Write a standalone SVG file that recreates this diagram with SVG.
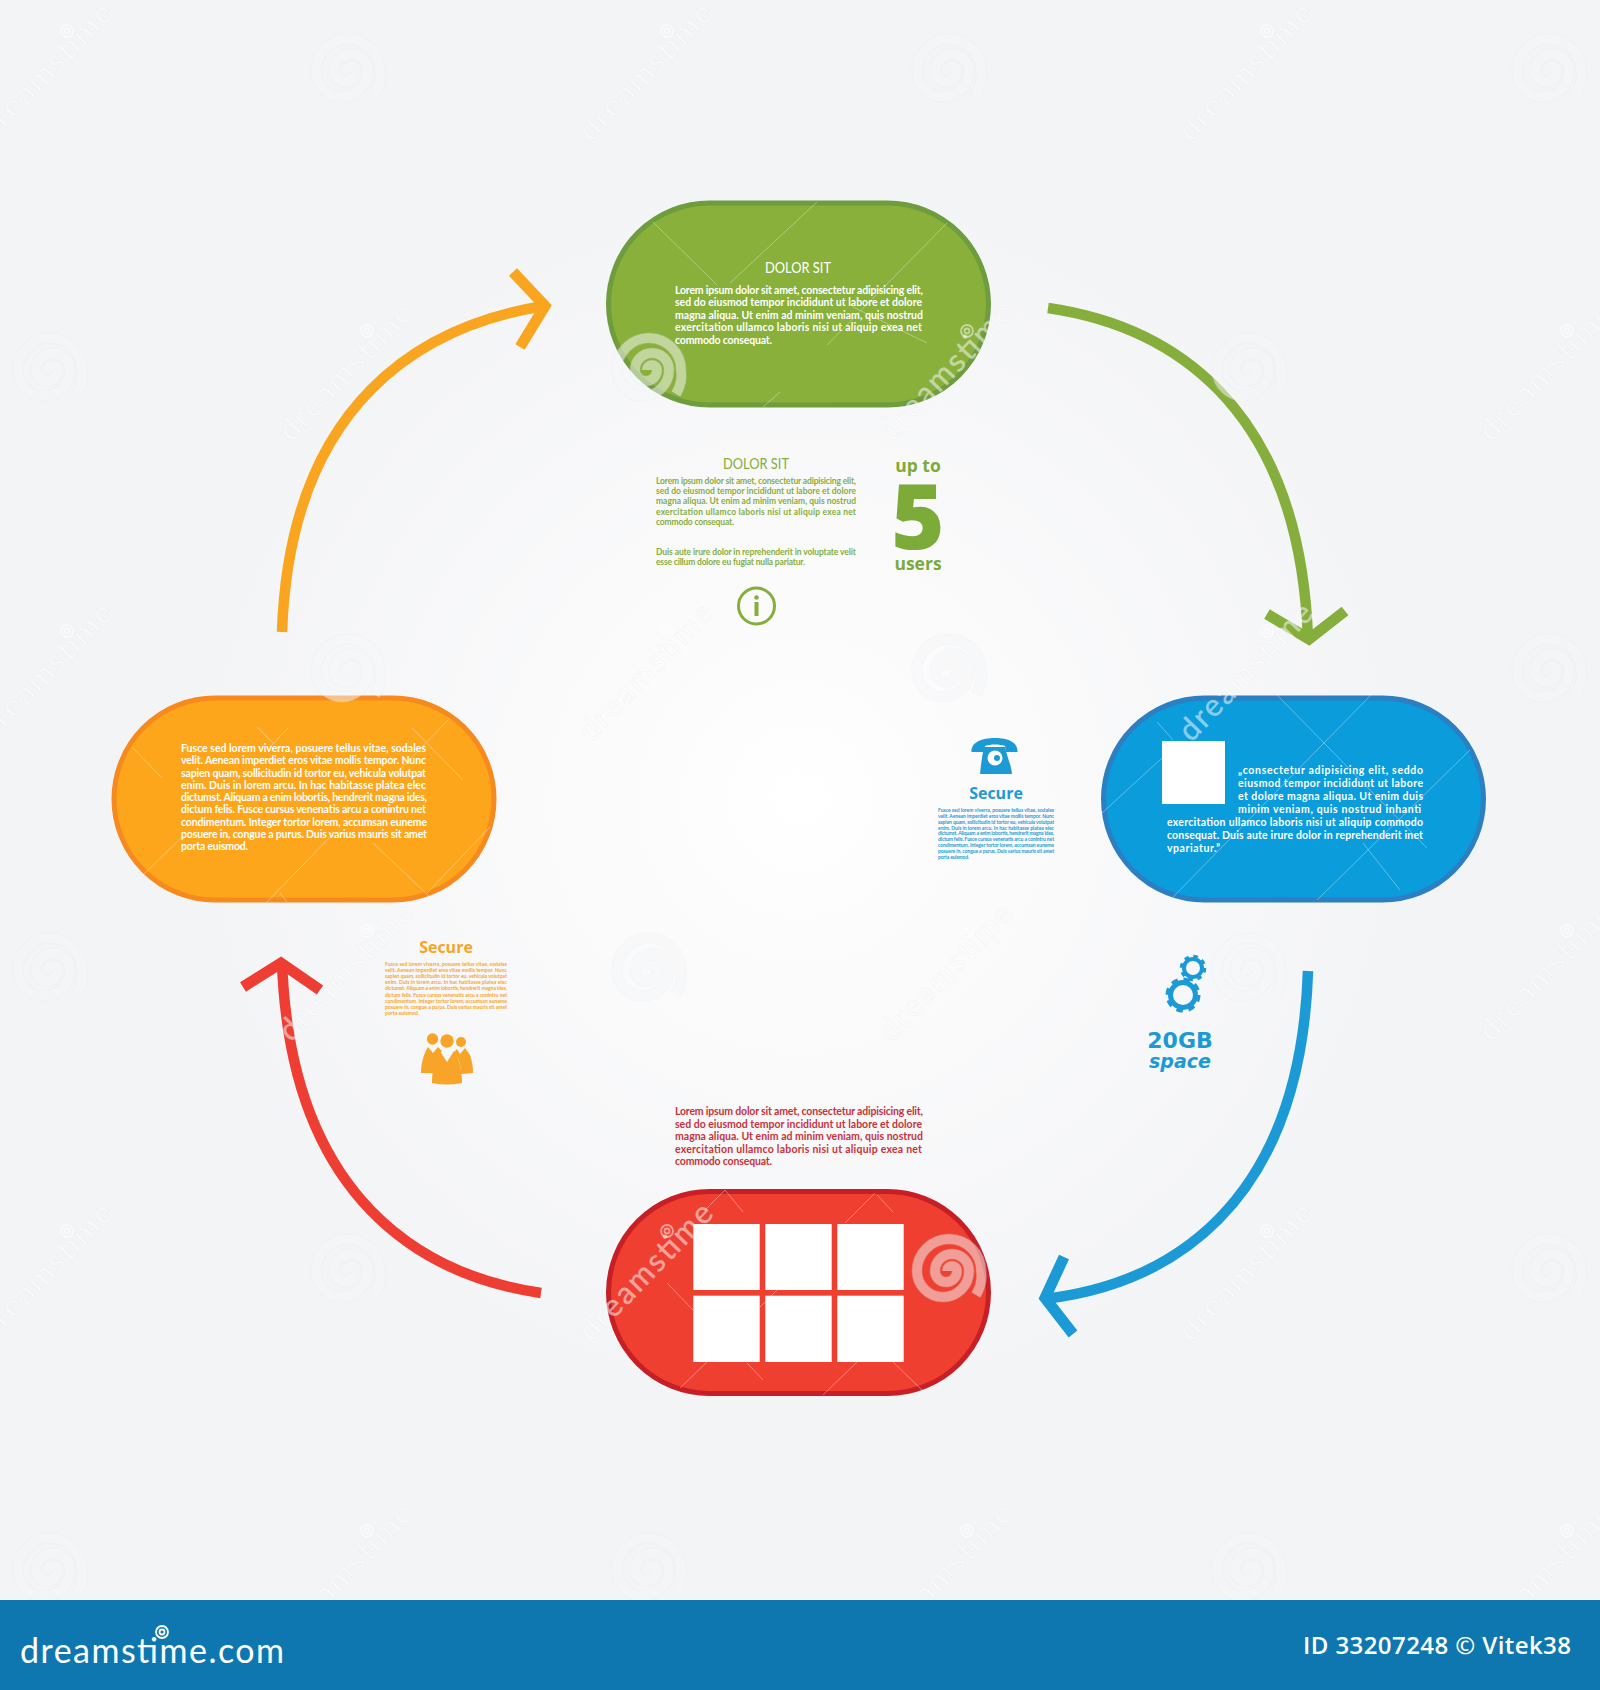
<svg xmlns="http://www.w3.org/2000/svg" width="1600" height="1690" viewBox="0 0 1600 1690">
<style>
text{font-family:"Open Sans","Noto Sans","Liberation Sans",sans-serif}
.b text,.m text,.t text{font-family:Lato,"Open Sans",sans-serif;font-weight:700}
.conn{fill:none;stroke-width:10.500}
.head{fill:none;stroke-width:11}
.pill{stroke-width:5}
.b{font-size:10.500px}
.m{font-size:8.500px}
.t{font-size:5px}
text.h{font-family:Lato,"Open Sans",sans-serif;font-size:15px;font-weight:400;text-anchor:middle}
.sec{font-size:16px;font-weight:700;text-anchor:middle}
.w{fill:#fff}
.lat{fill:none;stroke:#fff;stroke-width:1;opacity:.35}
text.wm{font-family:Lato,"Open Sans",sans-serif;font-size:31px;fill:#fff;fill-opacity:.5;text-anchor:middle;stroke:#dfe2e6;stroke-opacity:.3;stroke-width:.7}
.sp0{fill:none;stroke:#dfe2e6;stroke-width:11;opacity:.25}
.sp{fill:none;stroke:#fff;stroke-width:9.500;opacity:.36}
.ring{fill:none;stroke:#fff;stroke-width:1.800;opacity:.5}
</style>
<defs>
<radialGradient id="bg" gradientUnits="userSpaceOnUse" cx="800" cy="800" r="640">
<stop offset="0" stop-color="#ffffff"/><stop offset=".4" stop-color="#fafafb"/><stop offset="1" stop-color="#f3f4f6"/>
</radialGradient>
<path id="sd" d="M27 24Q34 12 32 0A32 32 0 0 0-32 0A26 26 0 0 0 20 0A17 17 0 0 0-14 0A11 11 0 0 0 8 0A5 5 0 0 0-2 0"/>
<g id="spiral"><use href="#sd" class="sp0"/><use href="#sd" class="sp"/></g>
<g id="cr"><circle class="ring" cx="17" cy="-41" r="6"/><circle class="ring" cx="17" cy="-41" r="2.500"/></g>
</defs>
<rect width="1600" height="1690" fill="url(#bg)"/>

<g id="connectors">
<g id="arrow-green" stroke="#86ae3d"><path class="conn" d="M1048 308C1165 325 1300 400 1308 640"/><path class="head" d="M1267 614L1309 639L1345 611"/></g>
<g id="arrow-blue" stroke="#1b9ad6"><path class="conn" d="M1308 971C1300 1210 1165 1285 1044 1299"/><path class="head" d="M1064 1257L1045 1298L1073 1334"/></g>
<g id="arrow-red" stroke="#ee3d32"><path class="conn" d="M541 1293C425 1276 290 1201 282 961"/><path class="head" d="M243 987L281 963L320 990"/></g>
<g id="arrow-orange" stroke="#f9a51f"><path class="conn" d="M282 632C290 400 425 325 544 306"/><path class="head" d="M513 272L545 306L520 347"/></g>
</g>

<g id="node-green">
<rect class="pill" x="608.500" y="203" width="380" height="202" rx="101" fill="#88b03b" stroke="#6f9c3d"/>
<path class="lat" d="M653 222L717 285M817 202L730 283M947 223L827 345M853 307L927 343M780 392L763 407"/>
<text class="h w" x="798" y="273" textLength="66" lengthAdjust="spacingAndGlyphs">DOLOR SIT</text>
<g class="b w">
<text x="675" y="293.500" textLength="248">Lorem ipsum dolor sit amet, consectetur adipisicing elit,</text>
<text x="675" y="306" textLength="247">sed do eiusmod tempor incididunt ut labore et dolore</text>
<text x="675" y="318.500" textLength="248">magna aliqua. Ut enim ad minim veniam, quis nostrud</text>
<text x="675" y="331" textLength="247">exercitation ullamco laboris nisi ut aliquip exea net</text>
<text x="675" y="343.800" textLength="97">commodo consequat.</text>
</g>
</g>

<g id="note-green" fill="#86ae3d">
<text class="h" x="756" y="469" textLength="66" lengthAdjust="spacingAndGlyphs">DOLOR SIT</text>
<g class="m">
<text x="656" y="484" textLength="200">Lorem ipsum dolor sit amet, consectetur adipisicing elit,</text>
<text x="656" y="494" textLength="200">sed do eiusmod tempor incididunt ut labore et dolore</text>
<text x="656" y="504.300" textLength="200">magna aliqua. Ut enim ad minim veniam, quis nostrud</text>
<text x="656" y="514.500" textLength="200">exercitation ullamco laboris nisi ut aliquip exea net</text>
<text x="656" y="524.500" textLength="78">commodo consequat.</text>
<text x="656" y="554.500" textLength="200">Duis aute irure dolor in reprehenderit in voluptate velit</text>
<text x="656" y="564.500" textLength="149">esse cillum dolore eu fugiat nulla pariatur.</text>
</g>
<circle cx="756.500" cy="606" r="18" fill="none" stroke="#86ae3d" stroke-width="3"/>
<circle cx="756.500" cy="597.500" r="2.300"/><rect x="754.500" y="602" width="4" height="14"/>
</g>

<g id="users" fill="#7cab3a" font-weight="700" text-anchor="middle">
<text x="918" y="472" font-size="17.500">up to</text>
<text x="918" y="549" font-size="91" font-weight="800">5</text>
<text x="918" y="570" font-size="17.500">users</text>
</g>

<g id="node-blue">
<rect class="pill" x="1103.500" y="698" width="380" height="202" rx="101" fill="#0b9cdb" stroke="#2b7fc2"/>
<path class="lat" d="M1102 813L1163 757M1157 722L1173 740M1277 695L1427 848M1371 695L1173 897M1470 750L1317 900M1363 843L1400 890"/>
<rect class="w" x="1162" y="741" width="63" height="63"/>
<g class="b w">
<text x="1238" y="774" textLength="185">„consectetur adipisicing elit, seddo</text>
<text x="1238" y="787" textLength="185">eiusmod tempor incididunt ut labore</text>
<text x="1238" y="800" textLength="185">et dolore magna aliqua. Ut enim duis</text>
<text x="1238" y="813" textLength="183">minim veniam, quis nostrud inhanti</text>
<text x="1167" y="826" textLength="256">exercitation ullamco laboris nisi ut aliquip commodo</text>
<text x="1167" y="839" textLength="256">consequat. Duis aute irure dolor in reprehenderit inet</text>
<text x="1167" y="852" textLength="53">vpariatur.”</text>
</g>
</g>

<g id="note-blue" fill="#1b9ad6">
<path d="M971.500 752C971 742 982 738 995 738C1008 738 1018 742 1017.500 752L1006 752L1005 746C1000 744 990 744 985 746L984 752Z"/>
<path d="M984 747L1005 747C1007 757 1011 764 1012 774L980 774C981 764 982 757 984 747Z"/>
<circle cx="995" cy="758" r="7.500" fill="#fff"/><circle cx="997" cy="758" r="3" fill="#1b9ad6"/>
<text class="sec" x="996" y="799">Secure</text>
<g class="t">
<text x="938" y="812" textLength="116">Fusce sed lorem viverra, posuere tellus vitae, sodales</text>
<text x="938" y="817.800" textLength="116">velit. Aenean imperdiet eros vitae mollis tempor. Nunc</text>
<text x="938" y="823.700" textLength="116">sapien quam, sollicitudin id tortor eu, vehicula volutpat</text>
<text x="938" y="829.500" textLength="116">enim. Duis in lorem arcu. In hac habitasse platea elec</text>
<text x="938" y="835.300" textLength="116">dictumst. Aliquam a enim lobortis, hendrerit magna ides,</text>
<text x="938" y="841.200" textLength="116">dictum felis. Fusce cursus venenatis arcu a conintru net</text>
<text x="938" y="847" textLength="116">condimentum. Integer tortor lorem, accumsan euneme</text>
<text x="938" y="852.800" textLength="116">posuere in, congue a purus. Duis varius mauris sit amet</text>
<text x="938" y="858.700" textLength="31">porta euismod.</text>
</g>
</g>

<g id="gears" fill="none" stroke="#1b9ad6">
<circle cx="1193" cy="968" r="9" stroke-width="4"/>
<circle cx="1193" cy="968" r="11.500" stroke-width="3.500" stroke-dasharray="4.500 4.530"/>
<circle cx="1183" cy="995" r="12.500" stroke-width="5"/>
<circle cx="1183" cy="995" r="15.500" stroke-width="4" stroke-dasharray="6.500 5.670"/>
</g>
<g id="space" fill="#1b9ad6" text-anchor="middle" style="font-weight:700">
<text x="1180" y="1048" font-size="22" style="font-family:'DejaVu Sans',sans-serif">20GB</text>
<text x="1180" y="1068" font-size="19" font-style="italic" style="font-family:'DejaVu Sans',sans-serif">space</text>
</g>

<g id="node-red">
<rect class="pill" x="608.500" y="1191.500" width="380" height="202" rx="101" fill="#ef3f30" stroke="#c71f26"/>
<path class="lat" d="M725 1190L705 1210M725 1190L743 1212M875 1193L845 1223M877 1195L893 1212M667 1283L693 1310M707 1362L680 1388M747 1363L763 1380M857 1362L823 1395M893 1362L922 1390M777 1290L760 1307"/>
<g fill="#fff">
<rect x="693.300" y="1224" width="66.400" height="66"/><rect x="765.300" y="1224" width="66.400" height="66"/><rect x="837.300" y="1224" width="66.400" height="66"/>
<rect x="693.300" y="1295.700" width="66.400" height="66.300"/><rect x="765.300" y="1295.700" width="66.400" height="66.300"/><rect x="837.300" y="1295.700" width="66.400" height="66.300"/>
</g>
</g>

<g id="note-red" class="b" fill="#c8323a">
<text x="675" y="1115" textLength="248">Lorem ipsum dolor sit amet, consectetur adipisicing elit,</text>
<text x="675" y="1127.500" textLength="247">sed do eiusmod tempor incididunt ut labore et dolore</text>
<text x="675" y="1140" textLength="248">magna aliqua. Ut enim ad minim veniam, quis nostrud</text>
<text x="675" y="1152.500" textLength="247">exercitation ullamco laboris nisi ut aliquip exea net</text>
<text x="675" y="1165" textLength="97">commodo consequat.</text>
</g>

<g id="node-orange">
<rect class="pill" x="114" y="698" width="380" height="202" rx="101" fill="#fda61b" stroke="#f68a1e"/>
<path class="lat" d="M132 747L162 778M257 727L273 743M288 728L270 747M412 728L463 780M450 718L387 783M182 837L143 875M330 837L267 902M373 843L430 897M490 827L427 893M280 893L287 902"/>
<g class="b w">
<text x="181" y="752" textLength="245">Fusce sed lorem viverra, posuere tellus vitae, sodales</text>
<text x="181" y="764.300" textLength="245">velit. Aenean imperdiet eros vitae mollis tempor. Nunc</text>
<text x="181" y="776.500" textLength="245">sapien quam, sollicitudin id tortor eu, vehicula volutpat</text>
<text x="181" y="788.800" textLength="245">enim. Duis in lorem arcu. In hac habitasse platea elec</text>
<text x="181" y="801" textLength="246">dictumst. Aliquam a enim lobortis, hendrerit magna ides,</text>
<text x="181" y="813.200" textLength="245">dictum felis. Fusce cursus venenatis arcu a conintru net</text>
<text x="181" y="825.500" textLength="246">condimentum. Integer tortor lorem, accumsan euneme</text>
<text x="181" y="837.700" textLength="246">posuere in, congue a purus. Duis varius mauris sit amet</text>
<text x="181" y="850" textLength="67">porta euismod.</text>
</g>
</g>

<g id="note-orange" fill="#f7a428">
<text class="sec" x="446" y="953">Secure</text>
<g class="t">
<text x="385" y="966" textLength="122">Fusce sed lorem viverra, posuere tellus vitae, sodales</text>
<text x="385" y="972.100" textLength="122">velit. Aenean imperdiet eros vitae mollis tempor. Nunc</text>
<text x="385" y="978.200" textLength="122">sapien quam, sollicitudin id tortor eu, vehicula volutpat</text>
<text x="385" y="984.300" textLength="122">enim. Duis in lorem arcu. In hac habitasse platea elec</text>
<text x="385" y="990.400" textLength="122">dictumst. Aliquam a enim lobortis, hendrerit magna ides,</text>
<text x="385" y="996.500" textLength="122">dictum felis. Fusce cursus venenatis arcu a conintru net</text>
<text x="385" y="1002.600" textLength="122">condimentum. Integer tortor lorem, accumsan euneme</text>
<text x="385" y="1008.700" textLength="122">posuere in, congue a purus. Duis varius mauris sit amet</text>
<text x="385" y="1014.800" textLength="34">porta euismod.</text>
</g>
<circle cx="432.500" cy="1039" r="5.700"/><circle cx="447" cy="1041" r="6.700"/><circle cx="461" cy="1042" r="5"/>
<path d="M428 1047L433 1053L438 1047L442 1051C436 1058 434 1066 433 1073L421 1073C421 1063 424 1053 428 1047Z"/>
<path d="M465 1048L470 1055C472 1061 473 1066 473 1073L461 1074C461 1066 459 1058 454 1052L457 1049L460 1054Z"/>
<path d="M440 1051L447 1062L454 1051C459 1058 462 1070 462 1083C452 1085 442 1085 432 1083C432 1070 435 1058 440 1051Z"/>
</g>

<g id="watermark">
<g id="wm-text">
<text class="wm" transform="translate(53 79) rotate(-46)" textLength="178">dreamstime</text>
<text class="wm" transform="translate(653 79) rotate(-46)" textLength="178">dreamstime</text>
<text class="wm" transform="translate(1253 79) rotate(-46)" textLength="178">dreamstime</text>
<text class="wm" transform="translate(353 379) rotate(-46)" textLength="178">dreamstime</text>
<text class="wm" transform="translate(953 379) rotate(-46)" textLength="178">dreamstime</text>
<text class="wm" transform="translate(1553 379) rotate(-46)" textLength="178">dreamstime</text>
<text class="wm" transform="translate(53 679) rotate(-46)" textLength="178">dreamstime</text>
<text class="wm" transform="translate(653 679) rotate(-46)" textLength="178">dreamstime</text>
<text class="wm" transform="translate(1253 679) rotate(-46)" textLength="178">dreamstime</text>
<text class="wm" transform="translate(353 979) rotate(-46)" textLength="178">dreamstime</text>
<text class="wm" transform="translate(953 979) rotate(-46)" textLength="178">dreamstime</text>
<text class="wm" transform="translate(1553 979) rotate(-46)" textLength="178">dreamstime</text>
<text class="wm" transform="translate(53 1279) rotate(-46)" textLength="178">dreamstime</text>
<text class="wm" transform="translate(653 1279) rotate(-46)" textLength="178">dreamstime</text>
<text class="wm" transform="translate(1253 1279) rotate(-46)" textLength="178">dreamstime</text>
<text class="wm" transform="translate(353 1579) rotate(-46)" textLength="178">dreamstime</text>
<text class="wm" transform="translate(953 1579) rotate(-46)" textLength="178">dreamstime</text>
<text class="wm" transform="translate(1553 1579) rotate(-46)" textLength="178">dreamstime</text>
</g>
<use href="#cr" x="50" y="72"/><use href="#cr" x="650" y="72"/><use href="#cr" x="1250" y="72"/>
<use href="#cr" x="350" y="372"/><use href="#cr" x="950" y="372"/><use href="#cr" x="1550" y="372"/>
<use href="#cr" x="50" y="672"/><use href="#cr" x="650" y="672"/><use href="#cr" x="1250" y="672"/>
<use href="#cr" x="350" y="972"/><use href="#cr" x="950" y="972"/><use href="#cr" x="1550" y="972"/>
<use href="#cr" x="50" y="1272"/><use href="#cr" x="650" y="1272"/><use href="#cr" x="1250" y="1272"/>
<use href="#cr" x="350" y="1572"/><use href="#cr" x="950" y="1572"/><use href="#cr" x="1550" y="1572"/>
<use href="#spiral" x="348" y="71"/><use href="#spiral" x="949" y="71"/><use href="#spiral" x="1549" y="71"/>
<use href="#spiral" x="50" y="370"/><use href="#spiral" x="649" y="370"/><use href="#spiral" x="1249" y="370"/>
<use href="#spiral" x="348" y="671"/><use href="#spiral" x="949" y="671"/><use href="#spiral" x="1549" y="671"/>
<use href="#spiral" x="50" y="970"/><use href="#spiral" x="649" y="970"/><use href="#spiral" x="1249" y="970"/>
<use href="#spiral" x="348" y="1271"/><use href="#spiral" x="949" y="1271"/><use href="#spiral" x="1549" y="1271"/>
<use href="#spiral" x="50" y="1570"/><use href="#spiral" x="649" y="1570"/><use href="#spiral" x="1249" y="1570"/>
</g>

<g id="footer">
<rect y="1600" width="1600" height="90" fill="#0f77af"/>
<text x="20" y="1663" font-size="34" fill="#fff" textLength="264" style="font-family:Lato,'Open Sans',sans-serif">dreamstime.com</text>
<circle class="ring" cx="162" cy="1632" r="6" style="opacity:1"/><circle class="ring" cx="162" cy="1632" r="2.500" style="opacity:1"/>
<text x="1303" y="1654" font-size="24" font-weight="600" fill="#fff" textLength="268">ID 33207248 © Vitek38</text>
</g>
</svg>
